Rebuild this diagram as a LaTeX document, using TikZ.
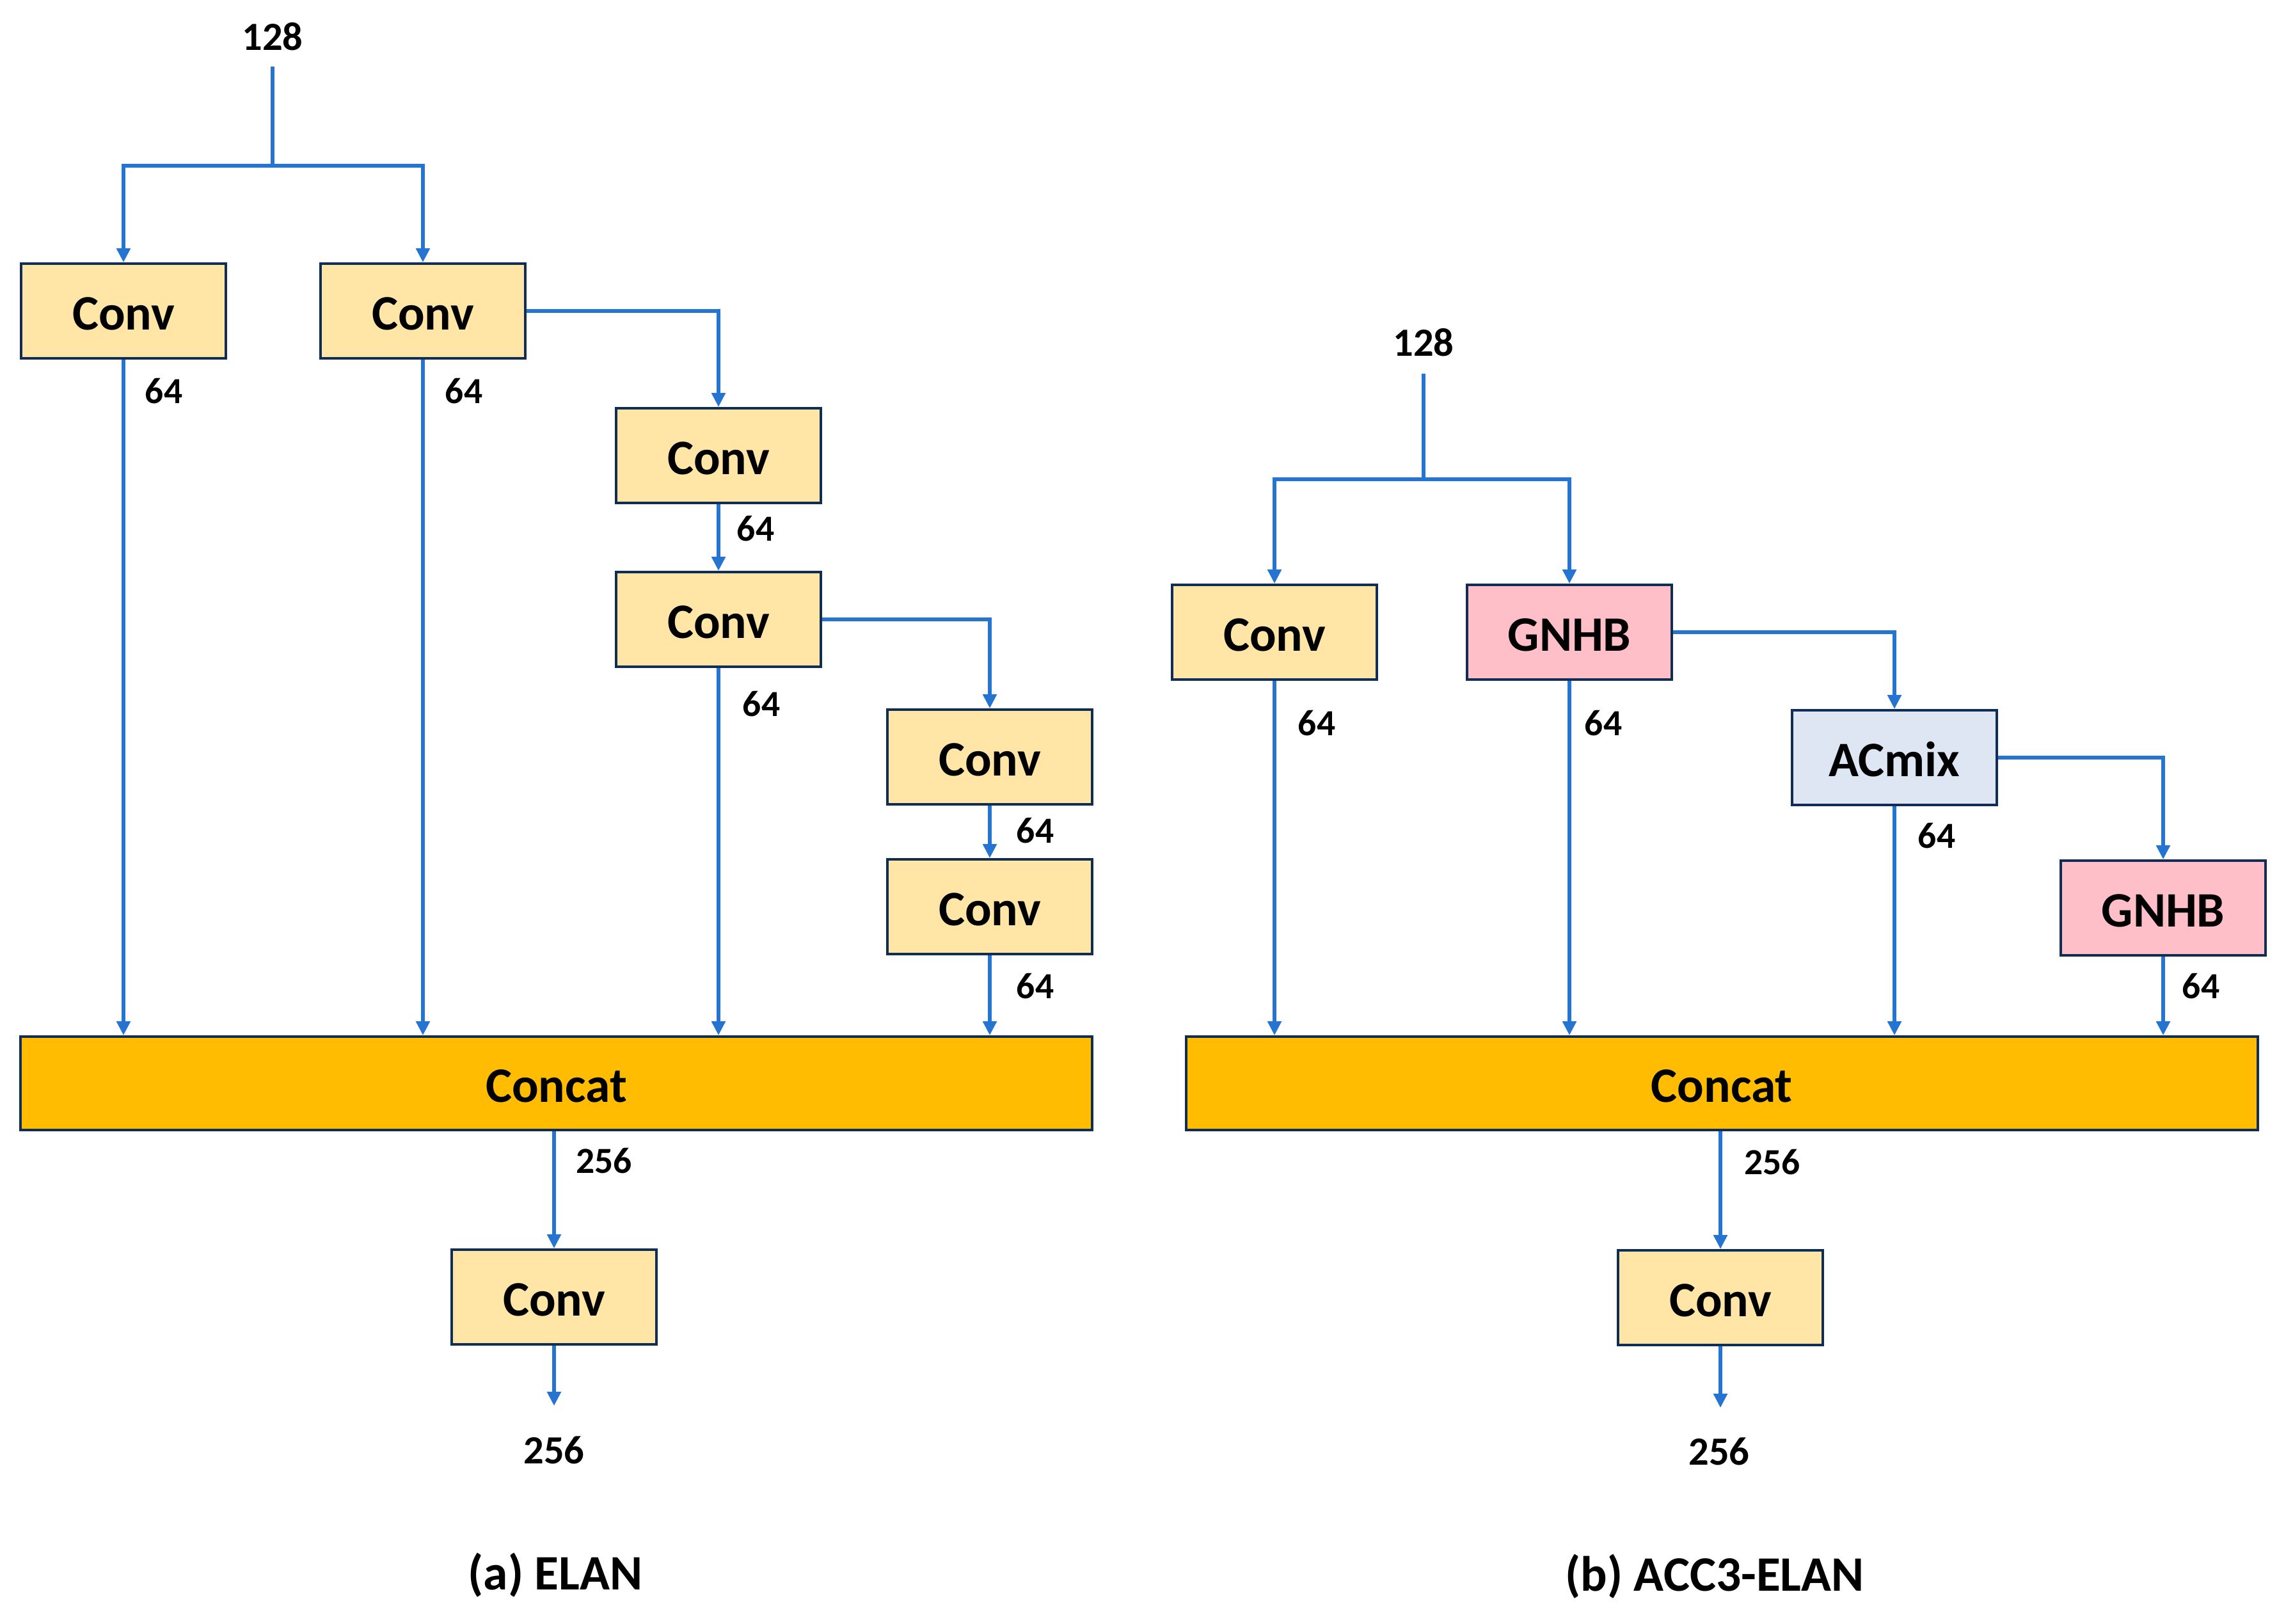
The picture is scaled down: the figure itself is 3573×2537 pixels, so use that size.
\documentclass[tikz,border=0pt]{standalone}
\usepackage{fontspec}
\setmainfont{Carlito}
\usetikzlibrary{arrows.meta}
\definecolor{boxline}{HTML}{0F2D55}
\definecolor{convfill}{HTML}{FFE6A6}
\definecolor{catfill}{HTML}{FFBC00}
\definecolor{gnhbfill}{HTML}{FFBFC9}
\definecolor{acfill}{HTML}{DEE5F3}
\definecolor{flow}{HTML}{2574D1}
\tikzset{
  blk/.style={draw=boxline, line width=0.8pt, minimum width=64pt, minimum height=29.6pt, inner sep=0pt, text height=11.8pt, text depth=0pt, font=\fontsize{15.5}{18}\selectfont\bfseries},
  convb/.style={blk, fill=convfill},
  gnhbb/.style={blk, fill=gnhbfill},
  acb/.style={blk, fill=acfill},
  catb/.style={blk, fill=catfill, minimum width=335pt, minimum height=29.2pt},
  lbl/.style={inner sep=0pt, font=\fontsize{11.5}{13}\selectfont\bfseries},
  endlbl/.style={inner sep=0pt, font=\fontsize{12.5}{14}\selectfont\bfseries},
  ttl/.style={inner sep=0pt, font=\fontsize{15.5}{18}\selectfont\bfseries},
  ln/.style={draw=flow, line width=1.1pt},
  arr/.style={ln, -{Triangle[width=4.2pt,length=4.4pt]}}
}
\begin{document}
\begin{tikzpicture}[x=0.2pt, y=-0.2pt]
\useasboundingbox (0,0) rectangle (3573,2537);
% ---------- (a) ELAN ----------
\node[endlbl] (ain) at (426,57) {128};
\coordinate (as) at (426,104);
\coordinate (ab) at (426,259);
\node[convb] (c1) at (193,486) {Conv};
\node[convb] (c2) at (661,486) {Conv};
\node[convb] (c3) at (1123,712) {Conv};
\node[convb] (c4) at (1123,968) {Conv};
\node[convb] (c5) at (1547,1183) {Conv};
\node[convb] (c6) at (1547,1417) {Conv};
\node[catb] (ca) at (869.5,1693) {Concat};
\node[convb] (fa) at (866,2027) {Conv};
\coordinate (ae) at (866,2197);
\node[endlbl] (aout) at (866,2266) {256};
\node[ttl] (ta) at (868,2462) {(a) ELAN};
\node[lbl] (l1) at (256,611) {64};
\node[lbl] (l2) at (725,611) {64};
\node[lbl] (l3) at (1181,826) {64};
\node[lbl] (l4) at (1190,1100) {64};
\node[lbl] (l5) at (1618,1298) {64};
\node[lbl] (l6) at (1618,1541) {64};
\node[lbl] (l7) at (944,1814) {256};
\draw[ln] (as) -- (ab);
\draw[arr] (ab) -| (c1.north);
\draw[arr] (ab) -| (c2.north);
\draw[arr] (c2.east) -| (c3.north);
\draw[arr] (c3.south) -- (c4.north);
\draw[arr] (c4.east) -| (c5.north);
\draw[arr] (c5.south) -- (c6.north);
\draw[arr] (c1.south) -- (c1.south |- ca.north);
\draw[arr] (c2.south) -- (c2.south |- ca.north);
\draw[arr] (c4.south) -- (c4.south |- ca.north);
\draw[arr] (c6.south) -- (c6.south |- ca.north);
\draw[arr] (fa.north |- ca.south) -- (fa.north);
\draw[arr] (fa.south) -- (ae);
% ---------- (b) ACC3-ELAN ----------
\node[endlbl] (bin) at (2225,535) {128};
\coordinate (bs) at (2225,584);
\coordinate (bb) at (2225,749);
\node[convb] (d1) at (1992,988) {Conv};
\node[gnhbb] (g1) at (2453,988) {GNHB};
\node[acb] (ac) at (2961,1184) {ACmix};
\node[gnhbb] (g2) at (3381,1419) {GNHB};
\node[catb] (cb) at (2691,1693) {Concat};
\node[convb] (fb) at (2689,2028) {Conv};
\coordinate (be) at (2689,2200);
\node[endlbl] (bout) at (2687,2268) {256};
\node[ttl] (tb) at (2680,2464) {(b) ACC3-ELAN};
\node[lbl] (m1) at (2058,1130) {64};
\node[lbl] (m2) at (2506,1130) {64};
\node[lbl] (m3) at (3027,1306) {64};
\node[lbl] (m4) at (3440,1541) {64};
\node[lbl] (m5) at (2770,1816) {256};
\draw[ln] (bs) -- (bb);
\draw[arr] (bb) -| (d1.north);
\draw[arr] (bb) -| (g1.north);
\draw[arr] (g1.east) -| (ac.north);
\draw[arr] (ac.east) -| (g2.north);
\draw[arr] (d1.south) -- (d1.south |- cb.north);
\draw[arr] (g1.south) -- (g1.south |- cb.north);
\draw[arr] (ac.south) -- (ac.south |- cb.north);
\draw[arr] (g2.south) -- (g2.south |- cb.north);
\draw[arr] (fb.north |- cb.south) -- (fb.north);
\draw[arr] (fb.south) -- (be);
\end{tikzpicture}
\end{document}
